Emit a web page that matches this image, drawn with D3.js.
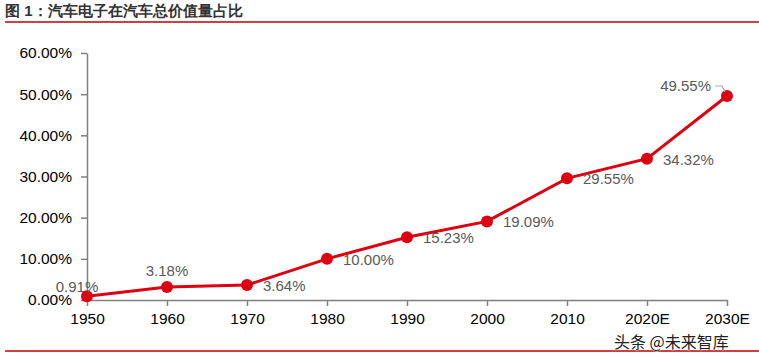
<!DOCTYPE html>
<html>
<head>
<meta charset="utf-8">
<script src="https://cdn.jsdelivr.net/npm/d3@7"></script>
<style>
  body { margin: 0; background: #fff; }
  svg { display: block; font-family: "Liberation Sans", Arial, sans-serif; }
  .axis text { font-size: 15.5px; fill: #000; }
  .axis path, .axis line { stroke: #808080; stroke-width: 1.5; }
  .lbl { font-family: "Liberation Sans Narrow", "Liberation Sans", Arial, sans-serif; font-size: 15px; fill: #595959; }
</style>
</head>
<body>
<svg id="chart" width="759" height="354"></svg>
<script>
// categories and values (share of vehicle value, %)
const years = ["1950", "1960", "1970", "1980", "1990", "2000", "2010", "2020E", "2030E"];
const share = [0.91, 3.18, 3.64, 10.00, 15.23, 19.09, 29.55, 34.32, 49.55];
const yTicks = [0, 10, 20, 30, 40, 50, 60];
// where each data label sits relative to its point
const labelPos = ["left", "top", "right", "right", "right", "right", "right", "right", "leftTop"];

const svg = d3.select("#chart");

// title + red rules
svg.append("text")
    .attr("x", 5).attr("y", 16)
    .attr("font-size", 15).attr("font-weight", "bold")
    .attr("fill", "#333")
    .text("图 1：汽车电子在汽车总价值量占比");
svg.append("line").attr("x1", 5).attr("x2", 759).attr("y1", 22).attr("y2", 22)
    .attr("stroke", "#c00000").attr("stroke-width", 1.5);
svg.append("line").attr("x1", 5).attr("x2", 759).attr("y1", 351).attr("y2", 351)
    .attr("stroke", "#c00000").attr("stroke-width", 1.5);

const x = d3.scalePoint().domain(years).range([87, 727]);
const y = d3.scaleLinear().domain([0, 60]).range([300, 53]);

svg.append("g").attr("class", "axis")
    .attr("transform", "translate(0,300)")
    .call(d3.axisBottom(x).tickSize(6).tickSizeOuter(0).tickPadding(6))
    .call(g => g.selectAll("text").attr("dy", "0.78em"));

svg.append("g").attr("class", "axis")
    .attr("transform", "translate(87,0)")
    .call(d3.axisLeft(y).tickValues(yTicks).tickSize(6).tickSizeOuter(0).tickPadding(9)
        .tickFormat(d => d.toFixed(2) + "%"));

const line = d3.line().x((d, i) => x(years[i])).y(d => y(d));
svg.append("path").datum(share)
    .attr("d", line)
    .attr("fill", "none")
    .attr("stroke", "#dc0010")
    .attr("stroke-width", 3);

svg.selectAll(".pt").data(share).enter()
    .append("circle")
    .attr("class", "pt")
    .attr("cx", (d, i) => x(years[i]))
    .attr("cy", d => y(d))
    .attr("r", 6)
    .attr("fill", "#dc0010");

// leader line for the last label
const lx = x(years[8]), ly = y(share[8]);
svg.append("polyline")
    .attr("points", [[lx - 12, ly - 10], [lx - 5, ly - 10], [lx - 2, ly - 4]].join(" "))
    .attr("fill", "none").attr("stroke", "#a6a6a6").attr("stroke-width", 1.2);

svg.selectAll(".lbl").data(share).enter()
    .append("text")
    .attr("class", "lbl")
    .attr("x", (d, i) => {
        const px = x(years[i]);
        const p = labelPos[i];
        if (p === "left") return px - 10;
        if (p === "top") return px;
        if (p === "leftTop") return px - 16;
        return px + 16;
    })
    .attr("y", (d, i) => {
        const py = y(d);
        const p = labelPos[i];
        if (p === "left") return py - 4;
        if (p === "top") return py - 11;
        if (p === "leftTop") return py - 5;
        return py + 6;
    })
    .attr("text-anchor", (d, i) => {
        const p = labelPos[i];
        if (p === "left") return "middle";
        if (p === "top") return "middle";
        if (p === "leftTop") return "end";
        return "start";
    })
    .text(d => d.toFixed(2) + "%");

// watermark
svg.append("text")
    .attr("x", 614).attr("y", 348)
    .attr("font-size", 16)
    .attr("fill", "#222").attr("stroke", "#fff").attr("stroke-width", 0.8)
    .attr("paint-order", "stroke")
    .attr("font-family", "'Noto Sans CJK SC', sans-serif")
    .text("头条 @未来智库");
</script>
</body>
</html>
